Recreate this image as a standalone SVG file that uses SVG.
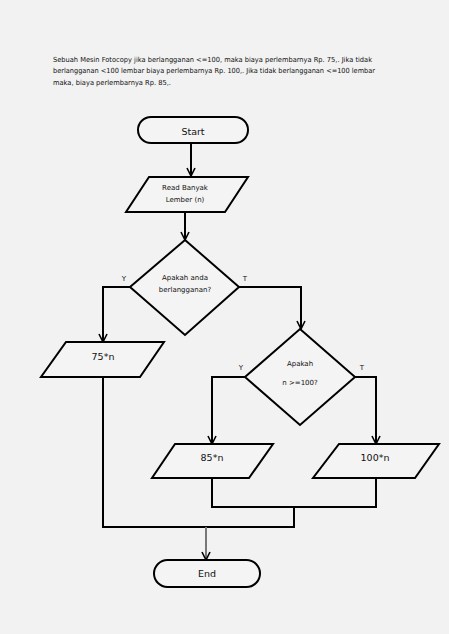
<svg xmlns="http://www.w3.org/2000/svg" width="449" height="634" viewBox="0 0 449 634">
<defs>
<marker id="arr" viewBox="0 0 10 10" refX="9" refY="5" markerWidth="10" markerHeight="10" markerUnits="userSpaceOnUse" orient="auto">
<path d="M1,1 L9,5 L1,9" fill="none" stroke="#000" stroke-width="1.6"/>
</marker>
<marker id="arrg" viewBox="0 0 10 10" refX="9" refY="5" markerWidth="10" markerHeight="10" markerUnits="userSpaceOnUse" orient="auto">
<path d="M1,1 L9,5 L1,9" fill="none" stroke="#000" stroke-width="1.6"/>
</marker>
</defs>
<style>
.sh{fill:#f4f4f4;stroke:#000;stroke-width:2}
.ln{fill:none;stroke:#000;stroke-width:2}
.t{font-family:"DejaVu Sans","Liberation Sans",sans-serif;fill:#111;text-anchor:middle}
.s{font-size:7px}
.m{font-size:9.5px}
.d{font-family:"DejaVu Sans","Liberation Sans",sans-serif;fill:#111;font-size:7px}
</style>
<rect x="0" y="0" width="449" height="634" fill="#f2f2f2"/>
<g id="desc">
<text class="d" x="53" y="61.5" textLength="319" lengthAdjust="spacingAndGlyphs">Sebuah Mesin Fotocopy jika berlangganan &lt;=100, maka biaya perlembarnya Rp. 75,. Jika tidak</text>
<text class="d" x="53" y="73" textLength="322" lengthAdjust="spacingAndGlyphs">berlangganan &lt;100 lembar biaya perlembarnya Rp. 100,. Jika tidak berlangganan &lt;=100 lembar</text>
<text class="d" x="53" y="85" textLength="118" lengthAdjust="spacingAndGlyphs">maka, biaya perlembarnya Rp. 85,.</text>
</g>
<g id="connectors">
<line class="ln" x1="191" y1="143" x2="191" y2="176" marker-end="url(#arr)"/>
<line class="ln" x1="185" y1="212" x2="185" y2="240" marker-end="url(#arr)"/>
<polyline class="ln" points="130,287 103,287 103,342" marker-end="url(#arr)"/>
<polyline class="ln" points="239,287 301,287 301,329" marker-end="url(#arr)"/>
<polyline class="ln" points="245,377 212,377 212,444" marker-end="url(#arr)"/>
<polyline class="ln" points="355,377 376,377 376,444" marker-end="url(#arr)"/>
<polyline class="ln" points="103,377 103,527 294,527 294,507"/>
<polyline class="ln" points="212,478 212,507 376,507 376,478"/>
<line x1="206" y1="527" x2="206" y2="560" stroke="#777" stroke-width="2" marker-end="url(#arrg)"/>
</g>
<g id="start">
<rect class="sh" x="138" y="117" width="110" height="26" rx="13"/>
<text class="t m" x="193" y="134.5">Start</text>
</g>
<g id="read">
<polygon class="sh" points="149,177 248,177 225,212 126,212"/>
<text class="t s" x="185" y="189.5">Read Banyak</text>
<text class="t s" x="185" y="202">Lember (n)</text>
</g>
<g id="dec1">
<polygon class="sh" points="185,240 239,287 185,335 130,287"/>
<text class="t s" x="185" y="280">Apakah anda</text>
<text class="t s" x="185" y="292">berlangganan?</text>
<text class="t s" x="124" y="281">Y</text>
<text class="t s" x="245" y="281">T</text>
</g>
<g id="p75">
<polygon class="sh" points="66,342 164,342 140,377 41,377"/>
<text class="t m" x="103" y="360">75*n</text>
</g>
<g id="dec2">
<polygon class="sh" points="300,329 355,377 300,425 245,377"/>
<text class="t s" x="300" y="366">Apakah</text>
<text class="t s" x="300" y="385">n &gt;=100?</text>
<text class="t s" x="241" y="370">Y</text>
<text class="t s" x="362" y="370">T</text>
</g>
<g id="p85">
<polygon class="sh" points="175,444 273,444 249,478 152,478"/>
<text class="t m" x="212" y="461">85*n</text>
</g>
<g id="p100">
<polygon class="sh" points="339,444 439,444 415,478 313,478"/>
<text class="t m" x="375" y="461">100*n</text>
</g>
<g id="end">
<rect class="sh" x="154" y="560" width="106" height="27" rx="13.5"/>
<text class="t m" x="207" y="577">End</text>
</g>
</svg>
